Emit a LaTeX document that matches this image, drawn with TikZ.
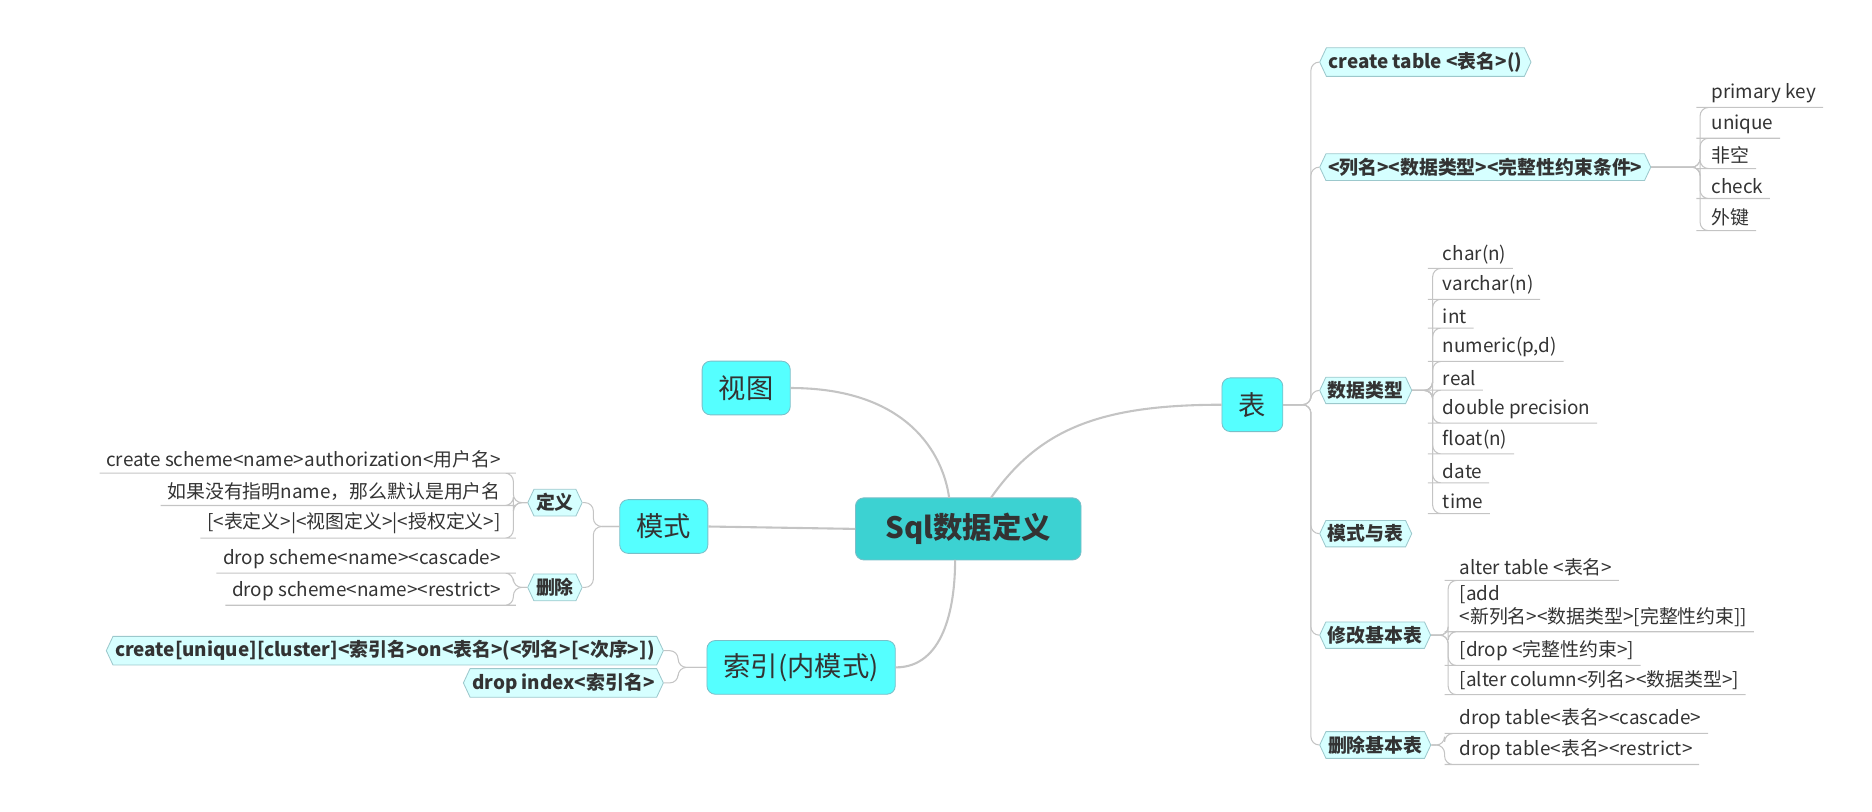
\documentclass[tikz,border=0pt]{standalone}
\usepackage{fontspec}
\setmainfont{Noto Sans CJK SC}
\usetikzlibrary{shapes.symbols}
\definecolor{topicfill}{HTML}{55FFFF}
\definecolor{topicline}{HTML}{7ABFC8}
\definecolor{centrefill}{HTML}{3CD2D2}
\definecolor{hexfill}{HTML}{D6FFFF}
\definecolor{hexline}{HTML}{9CC8CC}
\definecolor{connline}{HTML}{C4C4C4}
\definecolor{txt}{HTML}{333333}
\tikzset{
  maintopic/.style={draw=topicline, fill=centrefill, rounded corners=4pt, text=txt,
    minimum width=189*0.02cm, minimum height=52*0.02cm, font=\fontsize{14}{16}\selectfont\bfseries},
  branch/.style={draw=topicline, fill=topicfill, rounded corners=4pt, text=txt,
    minimum height=45*0.02cm, inner xsep=8pt, font=\fontsize{13}{15}\selectfont},
  hexbox/.style={signal, signal to=east and west, signal pointer angle=130,
    draw=hexline, fill=hexfill, text=txt, inner xsep=1pt, inner ysep=2pt,
    minimum height=22*0.02cm, font=\fontsize{9}{11}\selectfont\bfseries},
  leaf/.style={inner xsep=3pt, inner ysep=2pt, text=txt, font=\fontsize{9}{11}\selectfont},
  bigconn/.style={draw=connline, line width=1pt},
  conn/.style={draw=connline, line width=0.5pt, rounded corners=4pt},
}
\begin{document}
\begin{tikzpicture}[x=0.02cm, y=-0.02cm]
\useasboundingbox (0,0) rectangle (1568,680);
\clip (0,0) rectangle (1568,680);

% central topic and branches
\node[maintopic] (sql) at (811,443) {Sql数据定义};
\node[branch] (view) at (625,325) {视图};
\node[branch] (schema) at (556,441) {模式};
\node[branch] (index) at (671,559) {索引(内模式)};
\node[branch] (table) at (1049,339) {表};

\draw[bigconn] (view.east) .. controls (760,325) and (790,380) .. (795,417);
\draw[bigconn] (sql.west) -- (schema.east);
\draw[bigconn] (index.east) .. controls (790,559) and (800,510) .. (800,469);
\draw[bigconn] (830,417) .. controls (870,360) and (920,339) .. (table.west);

% table subtopics
\node[hexbox, anchor=west] (create) at (1105,52) {create table <表名>()};
\node[hexbox, anchor=west] (column) at (1105,140) {<列名><数据类型><完整性约束条件>};
\node[hexbox, anchor=west] (dtype) at (1105,327) {数据类型};
\node[hexbox, anchor=west] (schtab) at (1105,447) {模式与表};
\node[hexbox, anchor=west] (alter) at (1105,532) {修改基本表};
\node[hexbox, anchor=west] (droptab) at (1105,624) {删除基本表};
\foreach \s in {create,column,dtype,schtab,alter,droptab}
  \draw[conn] (table.east) -- (1098,339) |- (\s.west);

% column constraints
\foreach \t [count=\i] in {primary key,unique,非空,check,外键}
  \node[leaf, anchor=west] (con\i) at (1428,52+26*\i) {\t};
\foreach \i in {1,...,5}
  \draw[conn] (column.east) -- (1424,140) |- (con\i.south west) -- (con\i.south east);

% data types
\foreach \t [count=\i] in {char(n),varchar(n),int,{numeric(p,d)},real,double precision,float(n),date,time}
  \node[leaf, anchor=west] (dt\i) at (1203,187+25.9*\i) {\t};
\foreach \i in {1,...,9}
  \draw[conn] (dtype.east) -- (1200,327) |- (dt\i.south west) -- (dt\i.south east);

% alter table
\node[leaf, anchor=west] (al1) at (1217,475) {alter table <表名>};
\node[leaf, anchor=west, align=left] (al2) at (1217,508) {[add\\<新列名><数据类型>[完整性约束]]};
\node[leaf, anchor=west] (al3) at (1217,545) {[drop <完整性约束>]};
\node[leaf, anchor=west] (al4) at (1217,570) {[alter column<列名><数据类型>]};
\foreach \i in {1,...,4}
  \draw[conn] (alter.east) -- (1213,532) |- (al\i.south west) -- (al\i.south east);

% drop table
\node[leaf, anchor=west] (dr1) at (1217,602) {drop table<表名><cascade>};
\node[leaf, anchor=west] (dr2) at (1217,628) {drop table<表名><restrict>};
\foreach \i in {1,2}
  \draw[conn] (droptab.east) -- (1210,624) |- (dr\i.south west) -- (dr\i.south east);

% schema subtopics
\node[hexbox, anchor=east] (define) at (488,421) {定义};
\node[hexbox, anchor=east] (delete) at (488,492) {删除};
\foreach \s in {define,delete}
  \draw[conn] (schema.west) -- (497,441) |- (\s.east);
\node[leaf, anchor=east] (de1) at (425,385) {create scheme<name>authorization<用户名>};
\node[leaf, anchor=east] (de2) at (425,412) {如果没有指明name，那么默认是用户名};
\node[leaf, anchor=east] (de3) at (425,438) {[<表定义>|<视图定义>|<授权定义>]};
\foreach \i in {1,2,3}
  \draw[conn] (define.west) -- (430,421) |- (de\i.south east) -- (de\i.south west);
\node[leaf, anchor=east] (ds1) at (425,468) {drop scheme<name><cascade>};
\node[leaf, anchor=east] (ds2) at (425,495) {drop scheme<name><restrict>};
\foreach \i in {1,2}
  \draw[conn] (delete.west) -- (430,492) |- (ds\i.south east) -- (ds\i.south west);

% index subtopics
\node[hexbox, anchor=east] (mkidx) at (556,545) {create[unique][cluster]<索引名>on<表名>(<列名>[<次序>])};
\node[hexbox, anchor=east] (dropidx) at (556,572) {drop index<索引名>};
\foreach \s in {mkidx,dropidx}
  \draw[conn] (index.west) -- (568,559) |- (\s.east);
\end{tikzpicture}
\end{document}
